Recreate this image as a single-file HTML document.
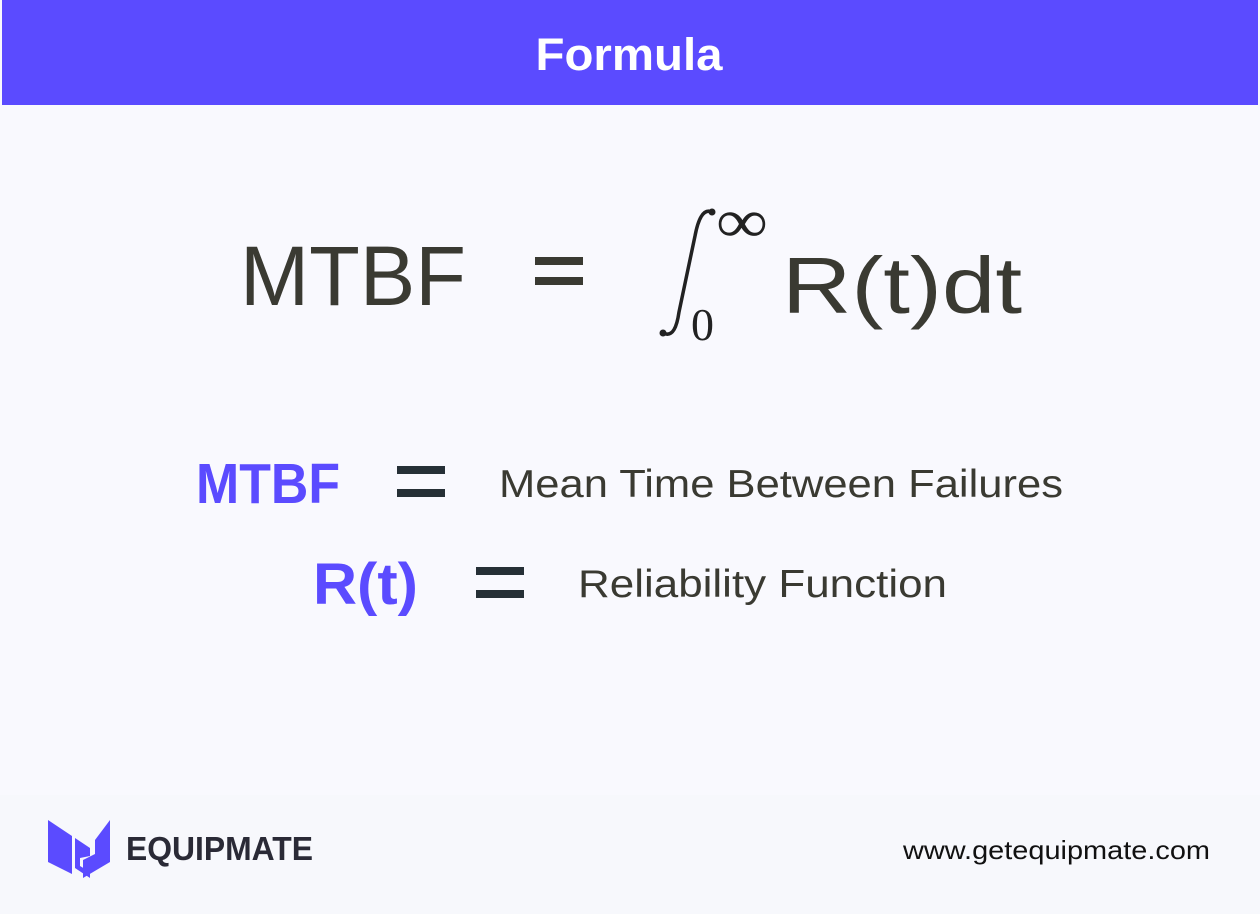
<!DOCTYPE html>
<html><head><meta charset="utf-8"><style>
html,body{margin:0;padding:0;background:#f9f9fe;}
svg{display:block}
</style></head><body>
<svg width="1260" height="914" viewBox="0 0 1260 914" xmlns="http://www.w3.org/2000/svg">
<rect x="0" y="0" width="1260" height="914" fill="#f9f9fe"/>
<rect x="0" y="795" width="1260" height="119" fill="#f7f8fc"/>
<rect x="2" y="0" width="1256" height="105" fill="#5b4bff"/>
<text x="629" y="70" text-anchor="middle" font-family="Liberation Sans, sans-serif" font-weight="bold" font-size="45" fill="#fff" textLength="187" lengthAdjust="spacingAndGlyphs">Formula</text>

<g font-family="Liberation Sans, sans-serif" fill="#3a3a32">
<text x="240" y="305" font-size="84" textLength="226" lengthAdjust="spacingAndGlyphs">MTBF</text>
<rect x="535" y="257" width="48" height="8"/>
<rect x="535" y="277" width="48" height="8"/>
<text x="782" y="313" font-size="80" textLength="240" lengthAdjust="spacingAndGlyphs">R(t)dt</text>
</g>
<path d="M663,333 C673,338 677,326 679,312 L695,236 C698,220 703,208 712,212" fill="none" stroke="#222" stroke-width="3.5" stroke-linecap="round"/>
<circle cx="663" cy="333" r="3.5" fill="#222"/>
<circle cx="712" cy="212" r="3.5" fill="#222"/>
<text x="716" y="242" font-family="Liberation Serif, DejaVu Serif, serif" font-size="62" fill="#222" textLength="52" lengthAdjust="spacingAndGlyphs">∞</text>
<text x="691" y="340" font-family="Liberation Serif, serif" font-size="46" fill="#222">0</text>

<g font-family="Liberation Sans, sans-serif" font-weight="bold" fill="#5b4bff">
<text x="196" y="503" font-size="57" textLength="144" lengthAdjust="spacingAndGlyphs">MTBF</text>
<text x="313" y="604" font-size="58" textLength="105" lengthAdjust="spacingAndGlyphs">R(t)</text>
</g>
<g fill="#263036">
<rect x="397" y="466" width="48" height="8"/>
<rect x="397" y="489" width="48" height="8"/>
<rect x="476" y="567" width="48" height="8"/>
<rect x="476" y="590" width="48" height="8"/>
</g>
<g font-family="Liberation Sans, sans-serif" fill="#3a3a32" font-size="39">
<text x="499" y="497" textLength="564" lengthAdjust="spacingAndGlyphs">Mean Time Between Failures</text>
<text x="578" y="597" textLength="369" lengthAdjust="spacingAndGlyphs">Reliability Function</text>
</g>

<g fill="#5b4bff">
<polygon points="48,820 72,836 72,874 48,862"/>
<polygon points="75,838 90,848 90,856 80,858 80,866 90,872 90,878 75,868"/>
<polygon points="83,860 95,854 95,840 110,820 110,862 83,878"/>
</g>
<text x="126" y="860" font-family="Liberation Sans, sans-serif" font-weight="bold" font-size="33" fill="#2a2a36" textLength="187" lengthAdjust="spacingAndGlyphs">EQUIPMATE</text>
<text x="903" y="859" font-family="Liberation Sans, sans-serif" font-size="26" fill="#111" textLength="307" lengthAdjust="spacingAndGlyphs">www.getequipmate.com</text>
</svg>
</body></html>
